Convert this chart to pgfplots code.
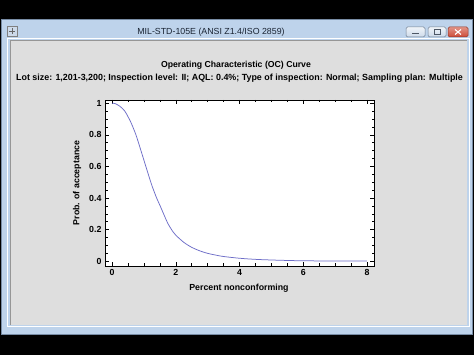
\documentclass[border=0pt]{standalone}
\usepackage{pgfplots}
\pgfplotsset{compat=1.18}
\usepackage{fontspec}
\setmainfont{Liberation Sans}
\definecolor{frameblue}{RGB}{190,211,235}
\definecolor{frameedge}{RGB}{120,140,165}
\definecolor{panelgray}{RGB}{222,222,222}
\definecolor{paneledge}{RGB}{150,150,150}
\definecolor{titletext}{RGB}{25,35,50}
\definecolor{curveblue}{RGB}{110,110,200}
\definecolor{btnface}{RGB}{205,218,234}
\definecolor{btnedge}{RGB}{110,125,145}
\definecolor{closered}{RGB}{205,75,55}
\pgfplotstableread{
p pa
0 1.000
0.1 0.997
0.25 0.980
0.4 0.950
0.5 0.915
0.6 0.875
0.75 0.800
0.9 0.705
1.0 0.640
1.1 0.575
1.25 0.480
1.4 0.400
1.5 0.355
1.65 0.285
1.75 0.240
1.9 0.190
2.0 0.165
2.25 0.120
2.5 0.088
2.75 0.066
3.0 0.050
3.25 0.039
3.5 0.030
4.0 0.019
4.5 0.012
5.0 0.008
5.5 0.005
6.0 0.003
7.0 0.0015
8.0 0.001
}\octable
\begin{document}
\begin{tikzpicture}
\path[use as bounding box] (0pt,0pt) rectangle (474pt,355pt);
\fill[black] (0pt,0pt) rectangle (474pt,355pt);
% window frame
\fill[frameblue] (1pt,21pt) rectangle (472pt,336pt);
\draw[frameedge, line width=0.6pt] (1pt,21pt) rectangle (472pt,336pt);
% title bar icon
\fill[btnface] (7pt,319pt) rectangle (17pt,329pt);
\draw[gray, line width=0.5pt] (7pt,319pt) rectangle (17pt,329pt);
\draw[gray!80!black, line width=0.5pt] (9pt,324pt) -- (15pt,324pt) (12pt,321pt) -- (12pt,327pt);
% title
\node[font=\fontsize{8.8}{10}\selectfont, text=titletext] at (211pt,323pt) {MIL-STD-105E (ANSI Z1.4/ISO 2859)};
% buttons
\shade[top color=white!70!btnface, bottom color=btnface, draw=btnedge, rounded corners=1.5pt, line width=0.5pt] (406pt,318pt) rectangle (425pt,328pt);
\draw[btnedge!70!black, line width=1.2pt] (412pt,321.5pt) -- (419pt,321.5pt);
\shade[top color=white!70!btnface, bottom color=btnface, draw=btnedge, rounded corners=1.5pt, line width=0.5pt] (428pt,318pt) rectangle (446pt,328pt);
\draw[btnedge!70!black, line width=0.7pt] (434pt,320.5pt) rectangle (440pt,325.5pt);
\shade[top color=closered!60!white, bottom color=closered, draw=closered!70!black, rounded corners=1.5pt, line width=0.5pt] (448pt,318pt) rectangle (468pt,328pt);
\draw[white, line width=1.1pt] (455pt,320.5pt) -- (461pt,325.5pt) (455pt,325.5pt) -- (461pt,320.5pt);
% content panel
\draw[white, line width=1pt] (7.5pt,28pt) rectangle (469.5pt,316pt);
\fill[panelgray] (10pt,30pt) rectangle (467pt,315pt);
\draw[paneledge, line width=0.8pt] (10pt,30pt) -- (10pt,315pt) -- (467pt,315pt);
% titles
\node[font=\bfseries\fontsize{8.7}{10}\selectfont] at (236pt,289.3pt) {Operating Characteristic (OC) Curve};
\node[font=\bfseries\fontsize{8.9}{10}\selectfont] at (239.5pt,277pt) {Lot size: 1,201-3,200; Inspection level: II; AQL: 0.4\%; Type of inspection: Normal; Sampling plan: Multiple};
\begin{axis}[
  at={(105pt,89pt)}, anchor=south west,
  scale only axis, width=269pt, height=166pt,
  xmin=-0.22, xmax=8.22, ymin=-0.03, ymax=1.02,
  axis background/.style={fill=white},
  axis line style={black, line width=0.5pt},
  xtick={0,2,4,6,8}, ytick={0,0.2,0.4,0.6,0.8,1},
  yticklabels={0,0.2,0.4,0.6,0.8,1},
  minor x tick num=3, minor y tick num=3,
  tick align=inside,
  major tick length=4pt, minor tick length=2.5pt,
  tick style={black, line width=0.5pt},
  /pgf/number format/assume math mode=true,
  ticklabel style={font=\bfseries\fontsize{8.8}{10}\selectfont},
  xlabel={Percent nonconforming},
  ylabel={Prob. of acceptance},
  label style={font=\bfseries\fontsize{8.8}{10}\selectfont},
  xlabel style={at={(axis description cs:0.498,-0.1325)}, anchor=center},
  ylabel style={at={(axis description cs:-0.104,0.5)}, anchor=center},
]
\addplot[curveblue, line width=0.75pt, smooth, no markers] table[x=p, y=pa] {\octable};
\end{axis}
\end{tikzpicture}
\end{document}
